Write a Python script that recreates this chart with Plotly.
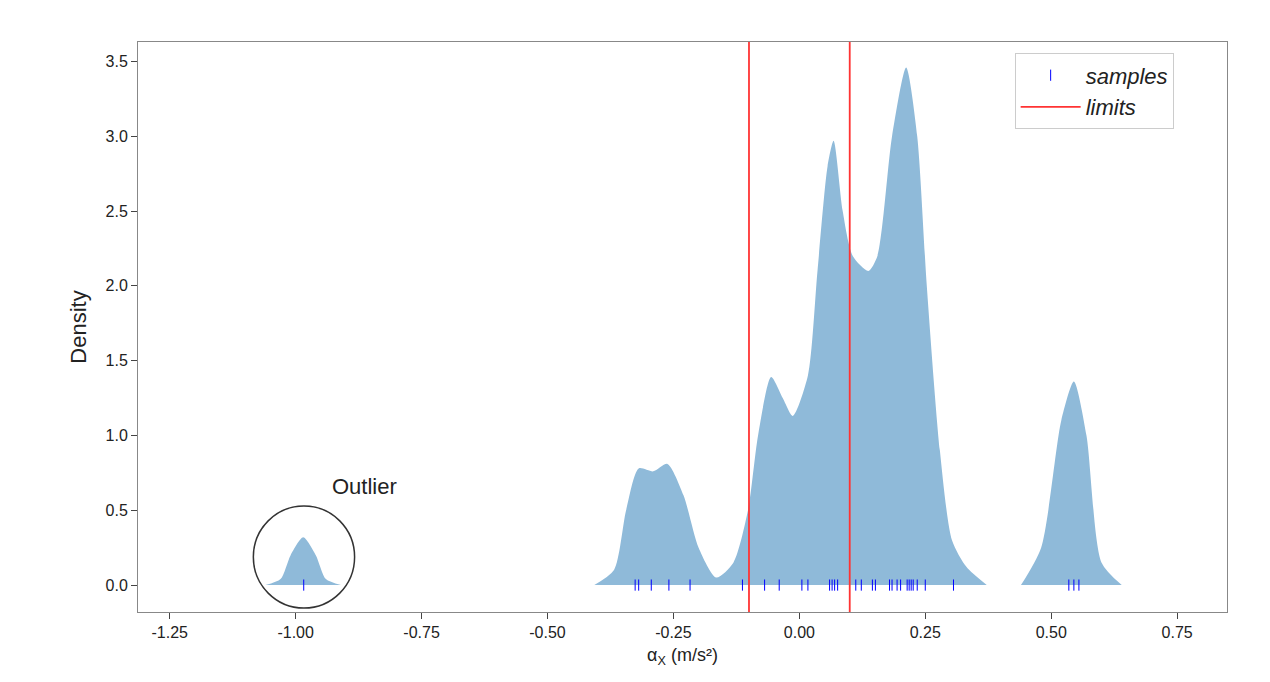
import plotly.graph_objects as go

samples = [-0.984, -0.326, -0.319, -0.294, -0.259, -0.217, -0.113, -0.069, -0.040,
           0.005, 0.017, 0.060, 0.065, 0.070, 0.076, 0.112, 0.123, 0.145, 0.151,
           0.179, 0.184, 0.194, 0.201, 0.214, 0.218, 0.222, 0.226, 0.234, 0.250,
           0.306, 0.535, 0.545, 0.555]
limits = [-0.1, 0.1]

out_x = [-1.06, -1.03, -1.01, -0.985, -0.96, -0.94, -0.91]
out_y = [0, 0.04, 0.2, 0.32, 0.2, 0.04, 0]
main_x = [-0.407, -0.368, -0.344, -0.319, -0.29, -0.262, -0.23, -0.2, -0.165, -0.131,
          -0.102, -0.082, -0.056, -0.033, -0.013, 0.017, 0.036, 0.056, 0.068, 0.086,
          0.106, 0.137, 0.155, 0.184, 0.212, 0.234, 0.253, 0.279, 0.303, 0.332, 0.372]
main_y = [0, 0.1, 0.5, 0.78, 0.76, 0.81, 0.6, 0.25, 0.05, 0.15,
          0.5, 1.0, 1.39, 1.25, 1.13, 1.4, 2.1, 2.8, 2.97, 2.5,
          2.2, 2.1, 2.2, 3.0, 3.46, 3.0, 2.0, 0.9, 0.3, 0.12, 0]
right_x = [0.44, 0.48, 0.52, 0.545, 0.57, 0.6, 0.64]
right_y = [0, 0.25, 1.1, 1.36, 1.0, 0.15, 0]

fill = "rgba(143,186,217,1)"
fig = go.Figure()
for xs, ys in [(out_x, out_y), (main_x, main_y), (right_x, right_y)]:
    fig.add_trace(go.Scatter(x=xs, y=ys, mode="lines", line=dict(color=fill, width=0, shape="spline", smoothing=0.7),
                             fill="tozeroy", fillcolor=fill, showlegend=False, hoverinfo="skip"))
fig.add_trace(go.Scatter(x=samples, y=[0]*len(samples), mode="markers", name="<i>samples</i>",
                         marker=dict(symbol="line-ns", size=8, color="blue", line=dict(color="blue", width=1))))
for i, v in enumerate(limits):
    fig.add_trace(go.Scatter(x=[v, v], y=[-0.2, 3.7], mode="lines", name="<i>limits</i>", showlegend=(i == 0),
                             line=dict(color="#f33", width=1.8)))

fig.add_shape(type="circle", xref="x", yref="y", x0=-1.084, x1=-0.883, y0=-0.154, y1=0.529,
              line=dict(color="#333", width=1.5))
fig.add_annotation(x=-0.863, y=0.66, text="Outlier", showarrow=False, font=dict(size=22, color="#222"))

fig.update_layout(
    width=1254, height=666, plot_bgcolor="white", paper_bgcolor="white",
    margin=dict(l=130, r=35, t=34, b=62),
    font=dict(family="Liberation Sans, Arial", size=16, color="#222"),
    legend=dict(x=0.805, y=0.98, xanchor="left", yanchor="top", bordercolor="#ccc", borderwidth=1,
                font=dict(size=22), itemwidth=60, bgcolor="white", tracegroupgap=2),
    xaxis=dict(range=[-1.313, 0.849], tickvals=[-1.25, -1.0, -0.75, -0.5, -0.25, 0, 0.25, 0.5, 0.75],
               ticktext=["-1.25", "-1.00", "-0.75", "-0.50", "-0.25", "0.00", "0.25", "0.50", "0.75"],
               showgrid=False, zeroline=False, showline=True, mirror=True, linecolor="#888",
               ticks="outside", ticklen=6, tickcolor="#444",
               title=dict(text="α<sub>X</sub> (m/s²)", font=dict(size=18), standoff=8)),
    yaxis=dict(range=[-0.18, 3.63], tickvals=[0, 0.5, 1, 1.5, 2, 2.5, 3, 3.5],
               ticktext=["0.0", "0.5", "1.0", "1.5", "2.0", "2.5", "3.0", "3.5"],
               showgrid=False, zeroline=False, showline=True, mirror=True, linecolor="#888",
               ticks="outside", ticklen=6, tickcolor="#444",
               title=dict(text="Density", font=dict(size=22), standoff=12)),
)
fig.write_html("out.html")
